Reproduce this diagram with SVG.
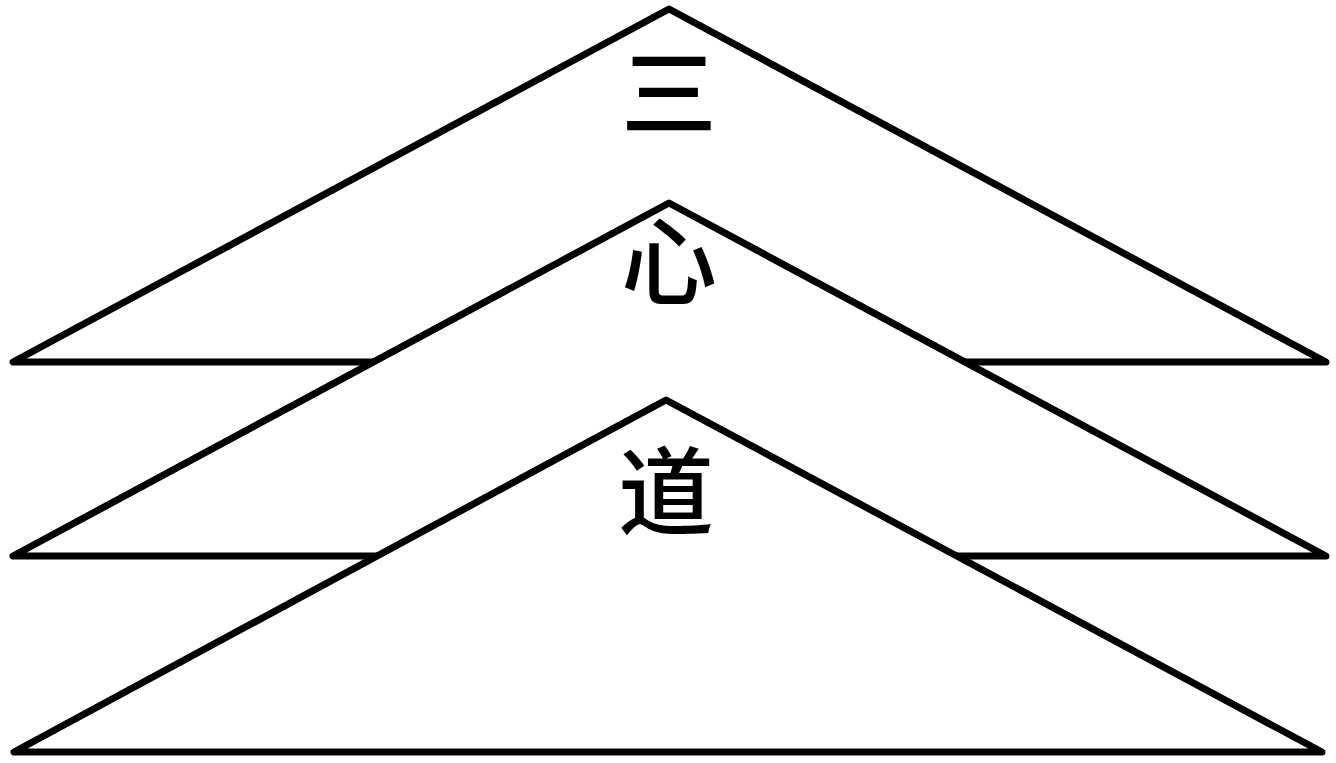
<svg xmlns="http://www.w3.org/2000/svg" width="1336" height="763" viewBox="0 0 1336 763">
<style>
.tri{fill:#fff;stroke:#000;stroke-width:7;stroke-linejoin:round;stroke-linecap:round}
.lbl{font-family:"Noto Sans CJK SC","Noto Sans CJK JP",sans-serif;font-size:96px;font-weight:500;fill:#000;text-anchor:middle}
</style>
<rect width="1336" height="763" fill="#fff"/>
<g id="node-san">
<polygon class="tri" points="669,9 13,362 1326,362"/>
<text class="lbl" x="669" y="128">三</text>
</g>
<g id="node-xin">
<polygon class="tri" points="669,203 13,556 1326,556"/>
<text class="lbl" x="669" y="297">心</text>
</g>
<g id="node-dao">
<polygon class="tri" points="666,400 14,752 1322,752"/>
<text class="lbl" x="666" y="527">道</text>
</g>
</svg>
